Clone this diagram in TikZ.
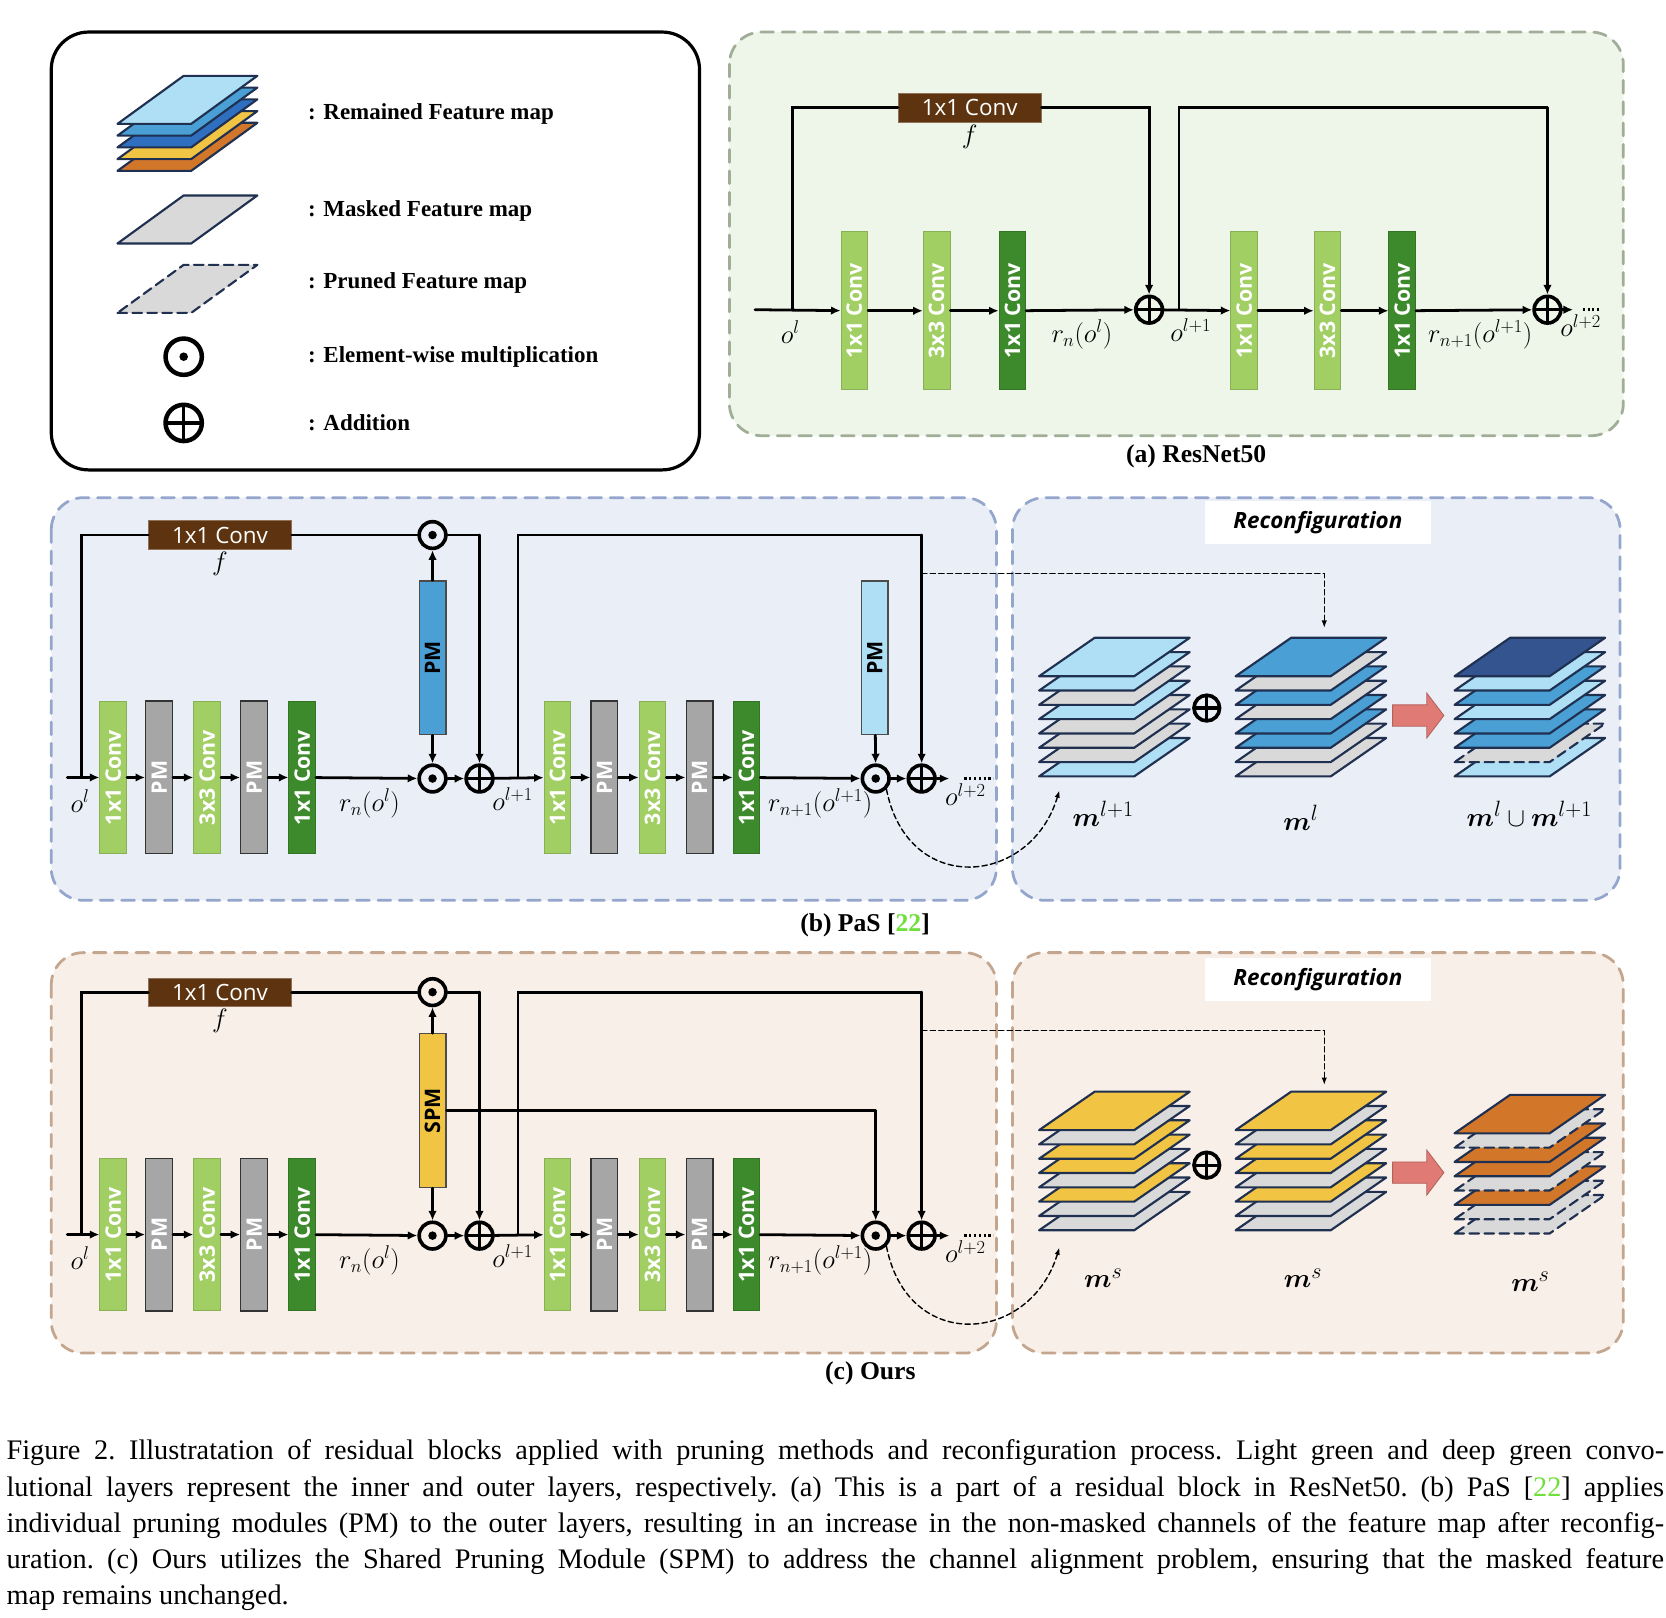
\documentclass[tikz,border=0pt]{standalone}
\usepackage{amsmath,amssymb}
\usepackage{fontspec}
\setmainfont{Liberation Serif}
\setsansfont{Open Sans}
\usepackage{tikz}
\usetikzlibrary{arrows.meta,positioning}

\definecolor{lgreen}{HTML}{A1CF63}
\definecolor{dgreen}{HTML}{3C8A2B}
\definecolor{pmgray}{HTML}{A6A6A6}
\definecolor{convbrown}{HTML}{5E3410}
\definecolor{midblue}{HTML}{4A9FD4}
\definecolor{lblue}{HTML}{AEDFF5}
\definecolor{dblue}{HTML}{2F6FBF}
\definecolor{dnavy}{HTML}{34548F}
\definecolor{navy}{HTML}{1F3050}
\definecolor{mgray}{HTML}{D9D9D9}
\definecolor{fyellow}{HTML}{F2C443}
\definecolor{forange}{HTML}{D2772A}
\definecolor{redarrow}{HTML}{E07A74}
\definecolor{agreen}{HTML}{EEF5E9}
\definecolor{agreenline}{HTML}{A0AE98}
\definecolor{bblue}{HTML}{EAEEF7}
\definecolor{bblueline}{HTML}{94A6CC}
\definecolor{cbeige}{HTML}{F8EFE8}
\definecolor{cbeigeline}{HTML}{C4A68E}
\definecolor{refgreen}{HTML}{6FE03A}

% one feature map, bottom left corner at (#1,#2)
\newcommand{\fmap}[3]{\path[#3] (#1,#2) -- ++(\fw,0) -- ++(\fdx,-\fh) -- ++(-\fw,0) -- cycle;}
% stack of feature maps, styles listed bottom to top
\newcommand{\fstack}[4]{\foreach \s [count=\k from 0] in {#3}{\fmap{#1}{#2-\k*#4}{\s}}}

\tikzset{
  conn/.style={line width=2.6pt},
  arr/.style={conn,-{Latex[length=9pt,width=8pt]}},
  thin dash/.style={line width=1.3pt,dash pattern=on 5pt off 3pt},
  block/.style={rotate=90,minimum width=143,minimum height=25,inner sep=0pt,
    text=white,font=\sffamily\bfseries\fontsize{20}{20}\selectfont},
  conv/.style={block,fill=lgreen,draw=lgreen!85!black,line width=0.8pt},
  outconv/.style={block,fill=dgreen,draw=dgreen!85!black,line width=0.8pt},
  pm/.style={block,fill=pmgray,draw=black!80,line width=1.2pt},
  mask/.style={block,minimum width=144,text=black,draw=black!70,line width=1.2pt},
  fconv/.style={fill=convbrown,draw=convbrown!70!white,text=white,minimum width=134,minimum height=27,
    inner sep=0pt,font=\sffamily\fontsize{21}{21}\selectfont},
  op/.style={circle,draw,line width=3.4pt,minimum size=25,inner sep=0pt},
  mul/.style={op,path picture={\fill (path picture bounding box.center) circle (4);}},
  add/.style={op,path picture={\draw[line width=3pt] (path picture bounding box.north) -- (path picture bounding box.south)
    (path picture bounding box.west) -- (path picture bounding box.east);}},
  lab/.style={font=\fontsize{24}{24}\selectfont},
  panel/.style={rounded corners=30,line width=2.6pt,dash pattern=on 12pt off 8pt},
  title/.style={font=\bfseries\fontsize{24}{24}\selectfont},
  legtext/.style={anchor=west,font=\bfseries\fontsize{21.5}{21.5}\selectfont},
  fm/.style={draw=navy,line width=2pt,line join=round},
  lb/.style={fm,fill=lblue}, mb/.style={fm,fill=midblue}, db/.style={fm,fill=dblue},
  nb/.style={fm,fill=dnavy}, gr/.style={fm,fill=mgray}, ye/.style={fm,fill=fyellow},
  og/.style={fm,fill=forange}, pr/.style={fm,fill=mgray,dash pattern=on 9pt off 5pt},
  mlab/.style={font=\fontsize{30}{30}\selectfont},
  recon/.style={fill=white,minimum width=212,minimum height=40,
    font=\sffamily\bfseries\itshape\fontsize{21}{21}\selectfont}
}

\begin{document}
\begin{tikzpicture}[x=1pt,y=-1pt,line cap=round]
\useasboundingbox (0,0) rectangle (1560,1515);

% legend
\draw[line width=3pt,rounded corners=35] (48,30) rectangle (655,440);
\def\fw{69}\def\fdx{62}\def\fh{45}
\fstack{110}{160}{og,ye,db,mb,lb}{11}
\fmap{110}{228}{gr}
\fmap{110}{293}{pr}
\node[mul,minimum size=34,line width=4.2pt] (leg-mul) at (172,334) {};
\node[add,minimum size=34,line width=4.2pt] (leg-add) at (172,396) {};
\node[legtext] at (285,107) {: Remained Feature map};
\node[legtext] at (285,198) {: Masked Feature map};
\node[legtext] at (285,265) {: Pruned Feature map};
\node[legtext] at (285,334) {: Element-wise multiplication};
\node[legtext] at (285,396) {: Addition};

% (a) ResNet50
\draw[panel,fill=agreen,draw=agreenline] (683,30) rectangle (1520,408);
\node[title] at (1120,427) {(a) ResNet50};
\coordinate (a-in) at (707,290);
\coordinate (a-s1) at (742,290);
\coordinate (a-s2) at (1104,290);
\coordinate (a-t2) at (1449,101);
\coordinate (a-out) at (1498,290);
\node[fconv] (a-f) at (908,101) {1x1 Conv};
\node[conv,minimum width=148] (a-c1) at (800,291) {1x1 Conv};
\node[conv,minimum width=148] (a-c2) at (877,291) {3x3 Conv};
\node[outconv,minimum width=148] (a-c3) at (948,291) {1x1 Conv};
\node[add] (a-add1) at (1076,290) {};
\node[conv,minimum width=148] (a-c4) at (1165,291) {1x1 Conv};
\node[conv,minimum width=148] (a-c5) at (1243,291) {3x3 Conv};
\node[outconv,minimum width=148] (a-c6) at (1313,291) {1x1 Conv};
\node[add] (a-add2) at (1449,290) {};
\draw[arr] (a-in) -- (a-c1);
\draw[arr] (a-c1) -- (a-c2);
\draw[arr] (a-c2) -- (a-c3);
\draw[arr] (a-c3) -- (a-add1);
\draw[arr] (a-add1) -- (a-c4);
\draw[arr] (a-c4) -- (a-c5);
\draw[arr] (a-c5) -- (a-c6);
\draw[arr] (a-c6) -- (a-add2);
\draw[conn] (a-s1) |- (a-f.west);
\draw[arr] (a-f.east) -| (a-add1.north);
\draw[conn] (a-s2) |- (a-t2);
\draw[arr] (a-t2) -- (a-add2.north);
\draw[arr] (a-add2) -- ++(24,0);
\draw[line width=2.6pt,dash pattern=on 2pt off 2.5pt,line cap=butt] (1482,290) -- (a-out);
\node[lab] at (740,311) {$o^l$};
\node[lab] at (908,128) {$f$};
\node[lab] at (1013,313) {$r_n(o^l)$};
\node[lab] at (1115,309) {$o^{l+1}$};
\node[lab] at (1386,313) {$r_{n+1}(o^{l+1})$};
\node[lab] at (1480,305) {$o^{l+2}$};

% (b) PaS and (c) Ours, shared part
\draw[panel,fill=bblue,draw=bblueline] (48,466) rectangle (933,843);
\draw[panel,fill=bblue,draw=bblueline] (948,466) rectangle (1517,843);
\draw[panel,fill=cbeige,draw=cbeigeline] (48,892) rectangle (933,1267);
\draw[panel,fill=cbeige,draw=cbeigeline] (948,892) rectangle (1520,1267);
\node[title] at (810,866) {(b) PaS [\textcolor{refgreen}{22}]};
\node[title] at (815,1286) {(c) Ours};
\foreach \p/\dy in {b/0,c/428}{
\begin{scope}[shift={(0,\dy)},name prefix=\p-]
\coordinate (in) at (63,728);
\coordinate (s1) at (76,728);
\coordinate (s2) at (485,728);
\coordinate (t1) at (449,501);
\coordinate (t2) at (863,501);
\coordinate (out) at (930,729);
\node[fconv] (f) at (206,501) {1x1 Conv};
\node[mul] (mult) at (405,501) {};
\node[conv] (c1) at (106,728) {1x1 Conv};
\node[pm] (p1) at (149,728) {PM};
\node[conv] (c2) at (194,728) {3x3 Conv};
\node[pm] (p2) at (238,728) {PM};
\node[outconv] (c3) at (283,728) {1x1 Conv};
\node[mul] (mul1) at (405,729) {};
\node[add] (add1) at (449,729) {};
\node[conv] (c4) at (522,728) {1x1 Conv};
\node[pm] (p3) at (566,728) {PM};
\node[conv] (c5) at (611,728) {3x3 Conv};
\node[pm] (p4) at (655,728) {PM};
\node[outconv] (c6) at (699,728) {1x1 Conv};
\node[mul] (mul2) at (820,729) {};
\node[add] (add2) at (863,729) {};
\draw[arr] (in) -- (c1);
\draw[arr] (c1) -- (p1);
\draw[arr] (p1) -- (c2);
\draw[arr] (c2) -- (p2);
\draw[arr] (p2) -- (c3);
\draw[arr] (c3) -- (mul1);
\draw[arr] (mul1) -- (add1);
\draw[arr] (add1) -- (c4);
\draw[arr] (c4) -- (p3);
\draw[arr] (p3) -- (c5);
\draw[arr] (c5) -- (p4);
\draw[arr] (p4) -- (c6);
\draw[arr] (c6) -- (mul2);
\draw[arr] (mul2) -- (add2);
\draw[arr] (add2) -- ++(26,0);
\draw[line width=2.6pt,dash pattern=on 2pt off 2.5pt,line cap=butt] (903,729) -- (out);
\draw[conn] (s1) |- (f.west);
\draw[conn] (f.east) -- (mult);
\draw[conn] (mult) -- (t1);
\draw[arr] (t1) -- (add1.north);
\draw[conn] (s2) |- (t2);
\draw[arr] (t2) -- (add2.north);
\coordinate (tap) at (863,537);
\coordinate (tapend) at (1240,588);
\draw[thin dash,-{Latex[length=7pt,width=5pt]}] (tap) -| (tapend);
\coordinate (curveend) at (992,740);
\draw[thin dash,-{Latex[length=7pt,width=5pt]}] (mul2.south east) .. controls (850,840) and (965,830) .. (curveend);
\node[lab] at (75,750) {$o^l$};
\node[lab] at (206,528) {$f$};
\node[lab] at (346,752) {$r_n(o^l)$};
\node[lab] at (480,748) {$o^{l+1}$};
\node[lab] at (768,752) {$r_{n+1}(o^{l+1})$};
\node[lab] at (904,744) {$o^{l+2}$};
\node[recon] (recon) at (1234,489) {Reconfiguration};
\node at (1130,663) [add,minimum size=24] (plus) {};
\draw[fill=redarrow,draw=redarrow!80!black,line width=0.8pt] (1304,660) -- (1336,660) -- (1336,649)
  -- (1352,670) -- (1336,691) -- (1336,680) -- (1304,680) -- cycle;
\end{scope}
}

% (b) pruning modules and masks
\node[mask,fill=midblue] (b-pm1) at (405,616) {PM};
\node[mask,fill=lblue] (b-pm2) at (819,616) {PM};
\draw[arr] (b-pm1) -- (b-mult);
\draw[arr] (b-pm1) -- (b-mul1);
\draw[arr] (b-pm2) -- (b-mul2);
\def\fw{89}\def\fdx{52}\def\fh{36}
\fstack{973}{727}{lb,gr,gr,gr,lb,gr,lb,lb}{13.4}
\fstack{1157}{727}{gr,gr,mb,mb,gr,mb,gr,mb}{13.4}
\fstack{1362}{727}{lb,pr,mb,mb,lb,mb,lb,nb}{13.4}
\node[mlab] at (1033,762) {$\boldsymbol{m}^{l+1}$};
\node[mlab] at (1218,766) {$\boldsymbol{m}^{l}$};
\node[mlab] at (1432,762) {$\boldsymbol{m}^{l}\cup\boldsymbol{m}^{l+1}$};

% (c) shared pruning module and masks
\node[mask,fill=fyellow] (c-spm) at (405,1040) {SPM};
\coordinate (c-sb) at (820,1040);
\draw[arr] (c-spm) -- (c-mult);
\draw[arr] (c-spm) -- (c-mul1);
\draw[conn] (c-spm.south) -- (c-sb);
\draw[arr] (c-sb) -- (c-mul2);
\fstack{973}{1152}{gr,gr,ye,gr,ye,ye,gr,ye}{13.4}
\fstack{1157}{1152}{gr,gr,ye,gr,ye,ye,gr,ye}{13.4}
\fstack{1362}{1155}{pr,pr,og,pr,og,og,pr,og}{13.4}
\node[mlab] at (1033,1197) {$\boldsymbol{m}^{s}$};
\node[mlab] at (1220,1197) {$\boldsymbol{m}^{s}$};
\node[mlab] at (1433,1200) {$\boldsymbol{m}^{s}$};

% caption
\node[anchor=north west,inner sep=0pt,text width=1552,align=justify,
  font=\fontsize{26.5}{34}\selectfont\frenchspacing] (caption) at (6,1348) {Figure 2. Illustratation of residual blocks applied with pruning
  methods and reconfiguration process. Light green and deep green convo-\linebreak lutional layers represent the inner and outer
  layers, respectively. (a) This is a part of a residual block in ResNet50. (b) PaS [\textcolor{refgreen}{22}] applies\linebreak
  individual pruning modules (PM) to the outer layers, resulting in an increase in the non-masked channels of the feature map
  after reconfig-\linebreak uration. (c) Ours utilizes the Shared Pruning Module (SPM) to address the channel alignment problem,
  ensuring that the masked feature\linebreak map remains unchanged.};
\end{tikzpicture}
\end{document}
